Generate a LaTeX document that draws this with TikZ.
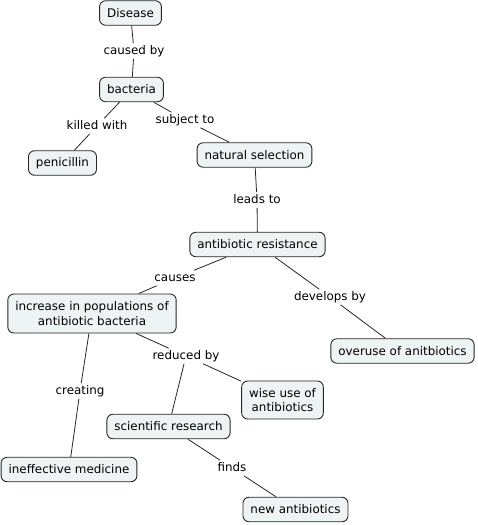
\documentclass[tikz,border=0pt]{standalone}
\usepackage{fontspec}
\setmainfont{DejaVu Sans}
\begin{document}
\begin{tikzpicture}[x=1pt,y=-1pt,
  concept/.style={draw=black!85, line width=0.9pt, fill=boxfill, rounded corners=6pt,
    inner xsep=7.5pt, inner ysep=0pt, minimum height=24.5pt, align=center,
    font=\fontsize{11.9}{14.5}\selectfont},
  linkword/.style={inner sep=2pt, font=\fontsize{11.9}{14}\selectfont, text height=8.7pt, text depth=2.5pt},
  conn/.style={draw=black!85, line width=0.8pt}]
\definecolor{boxfill}{HTML}{EEF3F4}
\useasboundingbox (0,0) rectangle (478,525);
% concepts
\node[concept] (dis) at (130.5,13) {Disease};
\node[concept] (bac) at (131.5,89.5) {bacteria};
\node[concept] (pen) at (62.5,163) {penicillin};
\node[concept] (nat) at (254.5,155) {natural selection};
\node[concept] (res) at (257.5,244.5) {antibiotic resistance};
\node[concept, minimum height=39pt] (inc) at (92,313.5) {increase in populations of\\antibiotic bacteria};
\node[concept] (ove) at (402.5,351) {overuse of anitbiotics};
\node[concept, minimum height=38pt] (wis) at (282.5,400) {wise use of\\antibiotics};
\node[concept] (sci) at (168.5,426.5) {scientific research};
\node[concept] (ine) at (69,469.5) {ineffective medicine};
\node[concept] (new) at (295.5,509.5) {new antibiotics};
% linking words
\node[linkword] (l1) at (134,51) {caused by};
\node[linkword] (l2) at (97,126) {killed with};
\node[linkword] (l3) at (185,120) {subject to};
\node[linkword] (l4) at (257,200) {leads to};
\node[linkword] (l5) at (175,278) {causes};
\node[linkword] (l6) at (330,297) {develops by};
\node[linkword] (l7) at (186,356) {reduced by};
\node[linkword] (l8) at (80,391) {creating};
\node[linkword] (l9) at (232,468) {finds};
% connectors
\draw[conn] (dis) -- (l1); \draw[conn] (l1) -- (bac);
\draw[conn] (bac) -- (l2); \draw[conn] (l2) -- (pen);
\draw[conn] (bac) -- (l3); \draw[conn] (l3) -- (nat);
\draw[conn] (nat) -- (l4); \draw[conn] (l4) -- (res);
\draw[conn] (res) -- (l5); \draw[conn] (l5) -- (inc);
\draw[conn] (res) -- (l6); \draw[conn] (l6) -- (ove);
\draw[conn] (inc) -- (l7); \draw[conn] (l7) -- (wis); \draw[conn] (l7) -- (sci);
\draw[conn] (inc) -- (l8); \draw[conn] (l8) -- (ine);
\draw[conn] (sci) -- (l9); \draw[conn] (l9) -- (new);
\end{tikzpicture}
\end{document}
